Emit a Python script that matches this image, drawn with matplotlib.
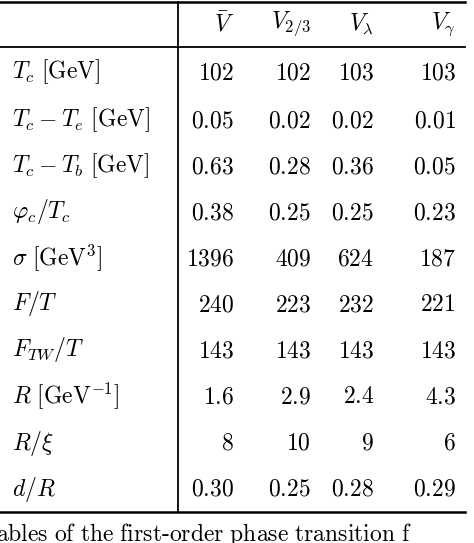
import matplotlib
matplotlib.use("Agg")
import matplotlib.pyplot as plt

plt.rcParams["mathtext.fontset"] = "cm"

headers = [r"$\bar{V}$", r"$V_{2/3}$", r"$V_{\lambda}$", r"$V_{\gamma}$"]
row_labels = [r"$T_c\ [\mathrm{GeV}]$", r"$T_c - T_e\ [\mathrm{GeV}]$",
              r"$T_c - T_b\ [\mathrm{GeV}]$", r"$\varphi_c/T_c$",
              r"$\sigma\ [\mathrm{GeV}^3]$", r"$F/T$", r"$F_{TW}/T$",
              r"$R\ [\mathrm{GeV}^{-1}]$", r"$R/\xi$", r"$d/R$"]
v_bar = ["102", "0.05", "0.63", "0.38", "1396", "240", "143", "1.6", "8", "0.30"]
v_23 = ["102", "0.02", "0.28", "0.25", "409", "223", "143", "2.9", "10", "0.25"]
v_lam = ["103", "0.02", "0.36", "0.25", "624", "232", "143", "2.4", "9", "0.28"]
v_gam = ["103", "0.01", "0.05", "0.23", "187", "221", "143", "4.3", "6", "0.29"]
caption = r"$\mathrm{ables\ of\ the\ first\text{-}order\ phase\ transition\ f}$"

W, H = 474, 543
fig = plt.figure(figsize=(W / 100, H / 100), dpi=100)
ax = fig.add_axes([0, 0, 1, 1])
ax.set_xlim(0, W); ax.set_ylim(H, 0); ax.axis("off")

col_right = [234, 311, 374, 456]
row_y = [72, 120, 166, 212, 258, 304, 350, 396, 443, 489]
fs = 17

ax.plot([0, 465], [2, 2], color="black", lw=1.8)
ax.plot([0, 465], [47, 47], color="black", lw=1.3)
ax.plot([0, 465], [512, 512], color="black", lw=1.8)
ax.plot([178, 178], [2, 512], color="black", lw=1.3)

for x, h in zip(col_right, headers):
    ax.text(x, 24, h, ha="right", va="center", fontsize=fs)

cols = [v_bar, v_23, v_lam, v_gam]
for i, (y, lab) in enumerate(zip(row_y, row_labels)):
    ax.text(12, y, lab, ha="left", va="center", fontsize=fs)
    for x, col in zip(col_right, cols):
        ax.text(x, y, "$" + col[i] + "$", ha="right", va="center", fontsize=fs)

ax.text(-4, 534, caption, ha="left", va="center", fontsize=17)

fig.savefig("out.png", dpi=100)
